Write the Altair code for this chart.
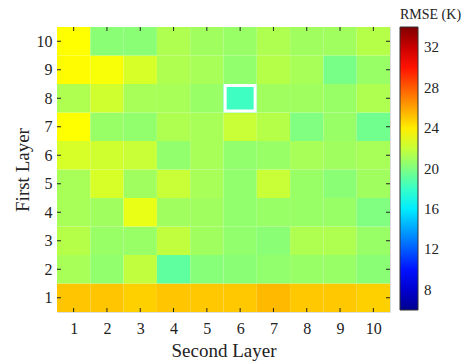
import altair as alt
import pandas as pd

second_layer = [1, 2, 3, 4, 5, 6, 7, 8, 9, 10]
# RMSE values (K), one list per First Layer value, columns = Second Layer 1..10
row1 = [25.1, 25.1, 24.8, 25.1, 25.0, 25.0, 25.4, 25.0, 25.0, 24.8]
row2 = [21.1, 20.5, 21.8, 19.1, 20.2, 20.3, 20.5, 20.7, 20.7, 20.3]
row3 = [21.5, 20.7, 20.7, 21.8, 20.9, 20.5, 20.3, 21.3, 21.3, 20.7]
row4 = [21.1, 20.9, 22.9, 20.9, 20.9, 20.5, 20.7, 20.7, 20.7, 20.0]
row5 = [21.1, 22.4, 20.9, 22.0, 21.1, 20.5, 22.0, 20.7, 20.3, 20.9]
row6 = [22.4, 22.2, 22.0, 20.5, 21.1, 20.5, 20.7, 21.1, 20.9, 21.1]
row7 = [23.5, 20.7, 20.5, 21.3, 21.1, 22.0, 21.5, 20.0, 20.7, 19.6]
row8 = [21.3, 22.2, 21.1, 21.1, 20.7, 18.2, 20.9, 20.9, 20.7, 21.3]
row9 = [23.6, 23.3, 22.4, 21.3, 21.1, 20.5, 21.5, 21.1, 19.8, 20.7]
row10 = [23.5, 20.3, 20.3, 21.3, 20.9, 20.7, 21.3, 20.9, 20.9, 21.5]
rows = [row1, row2, row3, row4, row5, row6, row7, row8, row9, row10]
first_layer = [1, 2, 3, 4, 5, 6, 7, 8, 9, 10]
best = {"first": 8, "second": 6}
cbar_ticks = [8, 12, 16, 20, 24, 28, 32]

recs = []
for f, row in zip(first_layer, rows):
    for s, v in zip(second_layer, row):
        recs.append({"second": s, "first": f, "x0": s - 0.5, "x1": s + 0.5,
                     "y0": f - 0.5, "y1": f + 0.5, "rmse": v})
df = pd.DataFrame(recs)
ticks_df = pd.DataFrame({"v": second_layer})
best_df = pd.DataFrame([{"x0": best["second"] - 0.45, "x1": best["second"] + 0.45,
                         "y0": best["first"] - 0.45, "y1": best["first"] + 0.45}])

W, H = 333, 285
FONT = "Liberation Serif"
xscale = alt.Scale(domain=[0.5, 10.5], nice=False, zero=False)
yscale = alt.Scale(domain=[0.5, 10.5], nice=False, zero=False)

xaxis = alt.Axis(values=second_layer, tickSize=0, domain=False, grid=False,
                 labelOverlap=False, labelPadding=8, titlePadding=5, labelFontSize=16,
                 titleFontSize=19, labelFont=FONT, titleFont=FONT,
                 labelColor="#222", titleColor="#222", titleFontWeight="normal")
yaxis = alt.Axis(values=first_layer, tickSize=0, domain=False, grid=False,
                 labelOverlap=False, labelPadding=5, titlePadding=4, labelFontSize=16,
                 titleFontSize=19, labelFont=FONT, titleFont=FONT,
                 labelColor="#222", titleColor="#222", titleFontWeight="normal")
XT, YT = "Second Layer", "First Layer"

jet = alt.Scale(domain=[6, 9.5, 16.5, 23.5, 30.5, 34],
                range=["#00008f", "#0000ff", "#00ffff", "#ffff00", "#ff0000", "#800000"],
                interpolate="rgb")

heat = alt.Chart(df).mark_rect().encode(
    x=alt.X("x0:Q", scale=xscale, title=XT, axis=xaxis),
    x2="x1:Q",
    y=alt.Y("y0:Q", scale=yscale, title=YT, axis=yaxis),
    y2="y1:Q",
    color=alt.Color("rmse:Q", scale=jet,
                    legend=alt.Legend(title="RMSE (K)", orient="none", legendX=343, legendY=-19,
                                      gradientLength=283, gradientThickness=18,
                                      values=cbar_ticks, labelFont=FONT, labelFontSize=15,
                                      titleFont=FONT, titleFontSize=14, titleFontWeight="normal",
                                      titleColor="#222", labelColor="#222", titlePadding=5,
                                      labelOffset=6, gradientStrokeColor="#333",
                                      gradientStrokeWidth=1, direction="vertical")),
)

box = alt.Chart(best_df).mark_rect(filled=False, stroke="white", strokeWidth=3).encode(
    x=alt.X("x0:Q", scale=xscale, title=XT, axis=xaxis), x2="x1:Q",
    y=alt.Y("y0:Q", scale=yscale, title=YT, axis=yaxis), y2="y1:Q",
)

tk = 4
tick_style = dict(color="#222", strokeWidth=1, opacity=1)
tick_bottom = alt.Chart(ticks_df).mark_rule(**tick_style).encode(
    x=alt.X("v:Q", scale=xscale, title=XT, axis=xaxis), y=alt.value(H), y2=alt.value(H - tk))
tick_top = alt.Chart(ticks_df).mark_rule(**tick_style).encode(
    x=alt.X("v:Q", scale=xscale, title=XT, axis=xaxis), y=alt.value(0), y2=alt.value(tk))
tick_left = alt.Chart(ticks_df).mark_rule(**tick_style).encode(
    y=alt.Y("v:Q", scale=yscale, title=YT, axis=yaxis), x=alt.value(0), x2=alt.value(tk))
tick_right = alt.Chart(ticks_df).mark_rule(**tick_style).encode(
    y=alt.Y("v:Q", scale=yscale, title=YT, axis=yaxis), x=alt.value(W), x2=alt.value(W - tk))

chart = alt.layer(heat, box, tick_bottom, tick_top, tick_left, tick_right).properties(
    width=W, height=H,
    autosize=alt.AutoSizeParams(type="none"),
    padding={"left": 49, "top": 19, "right": 76, "bottom": 50},
).configure_view(stroke="#444", strokeWidth=1).configure(background="white")

chart.save("out.html", embed_options={"renderer": "svg", "actions": False})
